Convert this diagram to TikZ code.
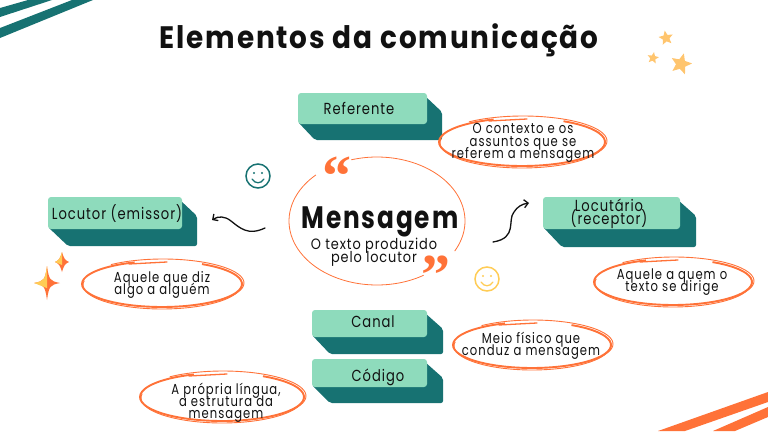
\documentclass[tikz,border=0pt]{standalone}
\usepackage{fontspec}
\setmainfont{Poppins}
\newfontfamily\titlefont[LetterSpace=6,FakeStretch=0.9]{Poppins}
\newfontfamily\msgfont[LetterSpace=6,FakeStretch=0.8]{Poppins}
\newfontfamily\labelfont[LetterSpace=6,FakeStretch=0.82]{Poppins}
\newfontfamily\notefont[LetterSpace=7,FakeStretch=0.8]{Poppins}
\newfontfamily\subfont[LetterSpace=6,FakeStretch=0.86]{Poppins}
\newfontfamily\quotefont{Liberation Serif}
\usetikzlibrary{arrows.meta,shapes.geometric}
\AtBeginDocument{\lineskiplimit=-50pt\relax}
\definecolor{teal}{HTML}{177272}
\definecolor{mint}{HTML}{8EDBBC}
\definecolor{coral}{HTML}{FF7238}
\definecolor{sun}{HTML}{FFCC55}
\definecolor{pale}{HTML}{FFC56E}
\definecolor{ink}{HTML}{111111}
\tikzset{
  x=1pt,y=-1pt,
  boxtop/.style={fill=mint,rounded corners=3pt},
  boxside/.style={fill=teal,rounded corners=2pt},
  label/.style={font=\labelfont\fontsize{16}{12.5}\selectfont,text=ink,align=center,inner sep=0pt},
  note/.style={font=\notefont\fontsize{14.5}{12.2}\selectfont,text=ink,align=center,inner sep=0pt},
  ring/.style={draw=coral,line width=1.1pt},
  wave/.style={draw=ink,line width=1.3pt,line cap=round,-{Straight Barb[length=4pt,width=8pt]}},
  face/.style={line width=1.3pt,line cap=round},
}
\newcommand{\calloutring}[4]{%
  \draw[ring,line width=1.9pt] plot[smooth,domain=-60:250,samples=50] ({#1+#3*cos(\x)},{#2+#4*sin(\x)});
  \draw[ring,line width=.9pt] plot[smooth,domain=-130:60,samples=40] ({#1+1+(#3+1)*cos(\x)},{#2-1+(#4+1)*sin(\x)});
  \draw[ring,line width=.9pt] plot[smooth,domain=20:190,samples=30] ({#1+(#3-1)*cos(\x)},{#2+1+(#4+1)*sin(\x)});
  \draw[ring,line width=1.3pt,line cap=round] ({#1-33},{#2-#4+3}) -- ({#1+5},{#2-#4+1});
}
\newcommand{\threedbox}[7]{% x1 y1 x2 y2 xdark ybottom xbottomleft
  \fill[boxside] (#1,#4-2) -- (#3-2,#2+3) -- (#5,#2+19) -- (#5,#6) -- (#7,#6) -- cycle;
  \fill[boxtop] (#1,#2) rectangle (#3,#4);
}
\newcommand{\sparkle}[4]{% x y rx ry
  \fill[coral] (#1-#3,#2) .. controls (#1-3,#2-2) and (#1-2,#2-3) .. (#1,#2-#4) .. controls (#1+2,#2-3) and (#1+3,#2-2) .. (#1+#3,#2) .. controls (#1+3,#2+2) and (#1+2,#2+3) .. (#1,#2+#4) .. controls (#1-2,#2+3) and (#1-3,#2+2) .. cycle;
  \fill[sun] (#1-#3,#2) .. controls (#1-3,#2-2) and (#1-2,#2-3) .. (#1,#2-#4) -- (#1,#2+#4*0.3) -- cycle;
}
\begin{document}
\begin{tikzpicture}
\useasboundingbox (0,0) rectangle (768,431);
% corner stripes
\fill[teal] (0,8) -- (28,0) -- (52,0) -- (0,17) -- cycle;
\fill[teal] (0,28) -- (72,0) -- (93,0) -- (0,38) -- cycle;
\fill[coral] (658,431) -- (768,392) -- (768,402) -- (685,431) -- cycle;
\fill[coral] (713,431) -- (768,407) -- (768,417) -- (735,431) -- cycle;
% stars
\node[star,star points=5,star point ratio=2.2,fill=pale,minimum size=15pt,inner sep=0pt,rotate=10] (s1) at (666,38) {};
\node[star,star points=5,star point ratio=2.2,fill=pale,minimum size=12pt,inner sep=0pt,rotate=-10] (s2) at (653,58) {};
\node[star,star points=5,star point ratio=2.2,fill=pale,minimum size=22pt,inner sep=0pt,rotate=-15] (s3) at (681,64) {};
% title
\node[inner sep=0pt,font=\titlefont\bfseries\fontsize{31}{32}\selectfont,text=ink] (title) at (379,40) {Elementos da comunicação};
% boxes
\threedbox{298}{93}{427}{124}{442}{140}{315}
\threedbox{48}{197}{182}{229}{197}{246}{68}
\threedbox{543}{197}{680}{229}{696}{247}{562}
\threedbox{312}{310}{427}{337}{443}{354}{330}
\threedbox{312}{359}{427}{387}{443}{403}{330}
\node[label] (referente) at (359,108) {Referente};
\node[label] (locutor) at (117,214) {Locutor (emissor)};
\node[label] (locutario) at (609,214) {Locutário\\(receptor)};
\node[label] (canal) at (373,322) {Canal};
\node[label] (codigo) at (378,377) {Código};
% rings
\calloutring{522}{142}{83}{24}
\calloutring{162}{284}{80}{23}
\calloutring{673}{282}{79}{23}
\calloutring{532}{345}{79}{23}
\calloutring{222}{397}{82}{24}
% notes
\node[note] (n1) at (523,143) {O contexto e os\\assuntos que se\\referem a mensagem};
\node[note] (n2) at (162,285) {Aquele que diz\\algo a alguém};
\node[note] (n3) at (672,282) {Aquele a quem o\\texto se dirige};
\node[note] (n4) at (531,346) {Meio físico que\\conduz a mensagem};
\node[note] (n5) at (226,403) {A própria língua,\\a estrutura da\\mensagem};
% central message
\draw[coral,line width=.8pt] plot[smooth,domain=-107:28,samples=50] ({377+88*cos(\x)},{221+64*sin(\x)});
\draw[coral,line width=.8pt] plot[smooth,domain=58:226,samples=50] ({377+88*cos(\x)},{221+64*sin(\x)});
\node[inner sep=0pt,text=coral,font=\quotefont\bfseries\fontsize{58}{58}\selectfont] (q1) at (337,176) {“};
\node[inner sep=0pt,text=coral,font=\quotefont\bfseries\fontsize{58}{58}\selectfont] (q2) at (436,275) {”};
\node[inner sep=0pt,font=\msgfont\bfseries\fontsize{31}{32}\selectfont,text=ink] (mensagem) at (380,222) {Mensagem};
\node[note,font=\subfont\fontsize{15}{12.5}\selectfont] (sub) at (374,252) {O texto produzido\\pelo locutor};
% arrows
\coordinate (la) at (265,228);
\coordinate (lb) at (212,220);
\coordinate (ra) at (493,242);
\coordinate (rb) at (529,203);
\draw[wave] (la) .. controls (248,236) and (240,228) .. (231,221) .. controls (225,216) and (218,216) .. (lb);
\draw[wave] (ra) .. controls (518,238) and (507,220) .. (514,212) .. controls (517,207) and (522,204) .. (rb);
% smileys
\node[circle,draw=teal,line width=1.5pt,minimum size=24pt,inner sep=0pt] (f1) at (258,176) {};
\fill[teal] (254,173) circle (1.2) (262,173) circle (1.2);
\draw[teal,face] (252,179) .. controls (255,184) and (261,184) .. (264,179);
\node[circle,draw=sun,line width=1.5pt,minimum size=24pt,inner sep=0pt] (f2) at (487,279) {};
\fill[sun] (483,276) circle (1.2) (491,276) circle (1.2);
\draw[sun,face] (481,282) .. controls (484,287) and (490,287) .. (493,282);
% sparkles
\sparkle{47}{283}{13}{17}
\sparkle{62}{262}{7}{10}
\end{tikzpicture}
\end{document}
